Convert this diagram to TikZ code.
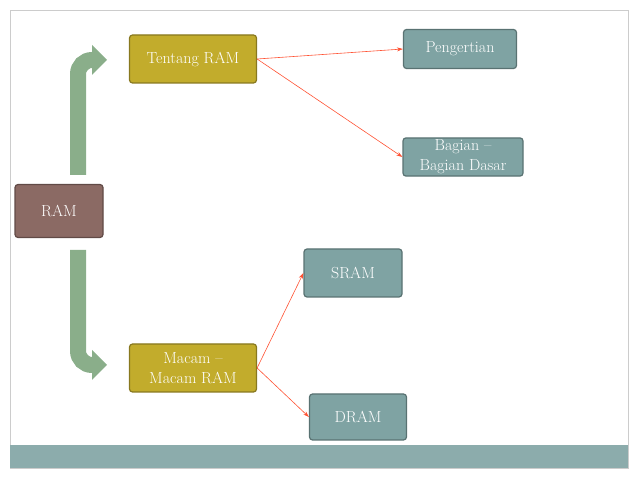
\documentclass[tikz,border=0pt]{standalone}
\usetikzlibrary{arrows.meta}
\begin{document}
\begin{tikzpicture}[x=1pt,y=-1pt,
 box/.style={draw=#1!70!black,line width=1.2pt,rounded corners=3pt,text=white,font=\fontsize{16}{20}\selectfont,align=center,inner sep=2pt},
 ln/.style={draw=red!70!orange!80,line width=0.6pt,-{Stealth[length=6pt,width=4pt]}}]
\definecolor{brn}{HTML}{8B6A64}\definecolor{olv}{HTML}{C2AC2C}\definecolor{tea}{HTML}{7FA3A3}
\definecolor{grn}{HTML}{8AAE8A}
\useasboundingbox (0,0) rectangle (638,478);
\draw[gray!40] (10,10) rectangle (628,468);
\fill[tea!90] (10,445) rectangle (628,468);
\draw[grn,line width=16pt,rounded corners=14pt] (78,175) -- (78,60) -- (94,60);
\fill[grn] (92,45) -- (107,60) -- (92,75) -- cycle;
\draw[grn,line width=16pt,rounded corners=14pt] (78,250) -- (78,365) -- (94,365);
\fill[grn] (92,350) -- (107,365) -- (92,380) -- cycle;
\node[box=brn,fill=brn,minimum width=88pt,minimum height=53pt] (ram) at (59,211) {RAM};
\node[box=olv,fill=olv,minimum width=127pt,minimum height=48pt] (ten) at (193,59) {Tentang RAM};
\node[box=olv,fill=olv,minimum width=127pt,minimum height=48pt] (mac) at (193,368) {Macam --\\Macam RAM};
\node[box=tea,fill=tea,minimum width=113pt,minimum height=39pt] (pen) at (460,49) {Pengertian};
\node[box=tea,fill=tea,minimum width=120pt,minimum height=38pt] (bag) at (463,157) {Bagian --\\Bagian Dasar};
\node[box=tea,fill=tea,minimum width=98pt,minimum height=48pt] (sram) at (353,273) {SRAM};
\node[box=tea,fill=tea,minimum width=97pt,minimum height=46pt] (dram) at (358,417) {DRAM};
\draw[ln] (ten.east) -- (pen.west);
\draw[ln] (ten.east) -- (bag.west);
\draw[ln] (mac.east) -- (sram.west);
\draw[ln] (mac.east) -- (dram.west);
\end{tikzpicture}
\end{document}
